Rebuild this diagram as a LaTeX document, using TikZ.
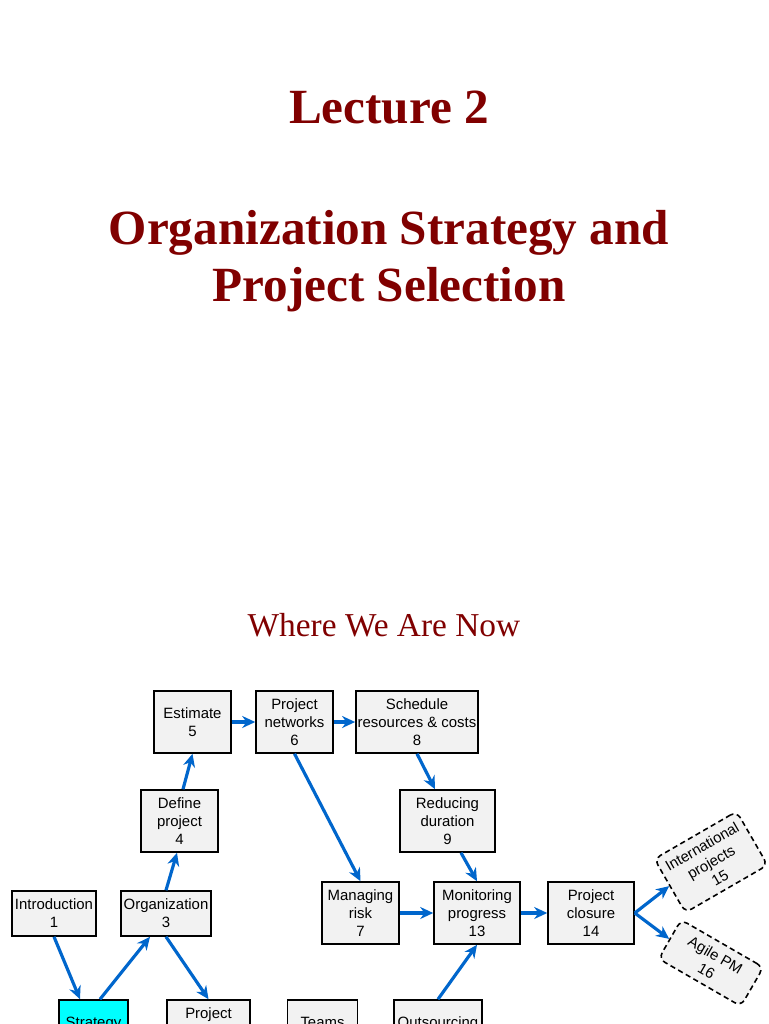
\documentclass[tikz,border=0pt]{standalone}
\usepackage{xcolor}
\usepackage{fontspec}
\setmainfont{Liberation Serif}
\newfontfamily\boxfont{Liberation Sans}
\usepackage{tikz}
\usetikzlibrary{positioning,arrows.meta}

\definecolor{titlered}{RGB}{128,0,0}
\definecolor{boxgray}{RGB}{242,242,242}
\definecolor{arrowblue}{RGB}{0,102,204}
\definecolor{nowcyan}{RGB}{0,255,255}

\begin{document}
\begin{tikzpicture}[x=0.02cm,y=-0.02cm,
  topic/.style={draw,line width=0.9pt,fill=boxgray,align=center,inner sep=1pt,
    font=\boxfont\fontsize{8.5}{10.2}\selectfont,minimum width=#1,minimum height=1.24cm},
  topic/.default=1.54cm,
  extra/.style={topic=1.9cm,dash pattern=on 3pt off 2pt,rounded corners=4pt},
  flow/.style={arrowblue,line width=1.8pt,-{Stealth[length=2.6mm,width=2.4mm]}},
  heading/.style={titlered,anchor=base,font=\bfseries\fontsize{28}{34}\selectfont}]

\useasboundingbox (0,0) rectangle (768,1024);
\clip (0,0) rectangle (768,1024);

% titles
\node[heading] (lecture) at (389,124) {Lecture 2};
\node[heading] (title1) at (389,244) {Organization Strategy and};
\node[heading] (title2) at (389,301) {Project Selection};
\node[titlered,anchor=base,font=\fontsize{19}{23}\selectfont] (now) at (384,636) {Where We Are Now};

% chapters
\node[topic] (estimate) at (192.5,722) {Estimate\\5};
\node[topic] (networks) at (294.5,722) {Project\\networks\\6};
\node[topic=2.44cm] (schedule) at (417,722) {Schedule\\resources \& costs\\8};
\node[topic] (define) at (179.5,821) {Define\\project\\4};
\node[topic=1.9cm] (reducing) at (447.5,821) {Reducing\\duration\\9};
\node[topic=1.68cm,minimum height=0.9cm] (intro) at (54,913.5) {Introduction\\1};
\node[topic=1.8cm,minimum height=0.9cm] (organization) at (166,913.5) {Organization\\3};
\node[topic] (risk) at (360.5,913) {Managing\\risk\\7};
\node[topic=1.72cm] (monitoring) at (477,913) {Monitoring\\progress\\13};
\node[topic=1.72cm] (closure) at (591,913) {Project\\closure\\14};
\node[extra,rotate=30] (international) at (711,862) {International\\projects\\15};
\node[extra,rotate=-30,minimum height=0.9cm] (agile) at (711,963) {Agile PM\\16};
\node[topic=1.38cm,fill=nowcyan] (strategy) at (93.5,1031) {Strategy\\2};
\node[topic=1.66cm] (manager) at (208.5,1031) {Project\\manager\\10};
\node[topic=1.4cm] (teams) at (322.5,1031) {Teams\\11};
\node[topic=1.76cm] (outsourcing) at (438,1031) {Outsourcing\\12};

% links
\draw[flow] (intro.south) -- ([xshift=-0.27cm]strategy.north);
\draw[flow] ([xshift=0.13cm]strategy.north) -- ([xshift=-0.32cm]organization.south);
\draw[flow] (organization.north) -- ([xshift=-0.05cm]define.south);
\draw[flow] (organization.south) -- (manager.north);
\draw[flow] ([xshift=0.07cm]define.north) -- (estimate.south);
\draw[flow] (estimate) -- (networks);
\draw[flow] (networks) -- (schedule);
\draw[flow] (networks.south) -- (risk.north);
\draw[flow] (schedule.south) -- ([xshift=-0.25cm]reducing.north);
\draw[flow] ([xshift=0.27cm]reducing.south) -- (monitoring.north);
\draw[flow] (risk) -- (monitoring);
\draw[flow] (outsourcing.north) -- (monitoring.south);
\draw[flow] (monitoring) -- (closure);
\draw[flow] (closure.east) -- (international.west);
\draw[flow] (closure.east) -- (agile.west);

\end{tikzpicture}
\end{document}
